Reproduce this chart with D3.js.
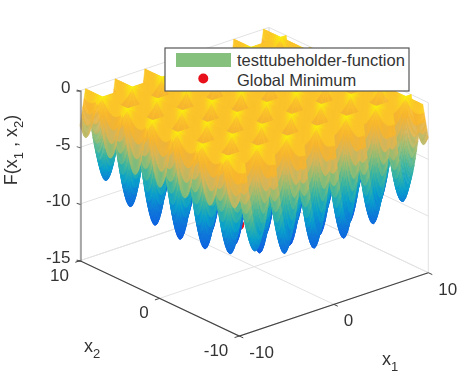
<!DOCTYPE html>
<html>
<head>
<meta charset="utf-8">
<script src="https://d3js.org/d3.v7.min.js"></script>
<style>
body { margin: 0; background: #fff; }
text { font-family: "Liberation Sans", Arial, sans-serif; fill: #333; }
svg { filter: blur(0.35px); }
</style>
</head>
<body>
<script>
// grid positions shared by x1 and x2
const gridX = [-10,-9.42,-8.9,-8.38,-7.85,-7.33,-6.81,-6.28,-5.76,-5.24,-4.71,-4.19,-3.67,-3.14,-2.62,-2.09,-1.57,-1.05,-0.52,0,0.52,1.05,1.57,2.09,2.62,3.14,3.67,4.19,4.71,5.24,5.76,6.28,6.81,7.33,7.85,8.38,8.9,9.42,10];

// surface heights, one row for each x2 line (values are read left to right along x1)
const rowFlat = [0,0,0,0,0,0,0,0,0,0,0,0,0,0,0,0,0,0,0,0,0,0,0,0,0,0,0,0,0,0,0,0,0,0,0,0,0,0,0];
const row00 = [-5.2,0,-5,-8.8,-10.4,-9.1,-5.3,0,-5.4,-9.3,-10.8,-9.4,-5.4,0,-5.4,-9.4,-10.9,-9.4,-5.4,0,-5.4,-9.4,-10.9,-9.4,-5.4,0,-5.4,-9.4,-10.8,-9.3,-5.4,0,-5.3,-9.1,-10.4,-8.8,-5,0,-5.2];
const row01 = [-4.5,0,-4.4,-7.6,-9,-7.9,-4.6,0,-4.6,-8.1,-9.3,-8.1,-4.7,0,-4.7,-8.1,-9.4,-8.1,-4.7,0,-4.7,-8.1,-9.4,-8.1,-4.7,0,-4.7,-8.1,-9.3,-8.1,-4.6,0,-4.6,-7.9,-9,-7.6,-4.4,0,-4.5];
const row02 = [-2.6,0,-2.5,-4.4,-5.2,-4.5,-2.6,0,-2.7,-4.7,-5.4,-4.7,-2.7,0,-2.7,-4.7,-5.4,-4.7,-2.7,0,-2.7,-4.7,-5.4,-4.7,-2.7,0,-2.7,-4.7,-5.4,-4.7,-2.7,0,-2.6,-4.5,-5.2,-4.4,-2.5,0,-2.6];
const row04 = [-2.6,0,-2.5,-4.4,-5.1,-4.5,-2.6,0,-2.7,-4.6,-5.4,-4.7,-2.7,0,-2.7,-4.7,-5.4,-4.7,-2.7,0,-2.7,-4.7,-5.4,-4.7,-2.7,0,-2.7,-4.7,-5.4,-4.6,-2.7,0,-2.6,-4.5,-5.1,-4.4,-2.5,0,-2.6];
const row05 = [-4.5,0,-4.3,-7.6,-8.9,-7.8,-4.5,0,-4.6,-8,-9.3,-8.1,-4.7,0,-4.7,-8.1,-9.4,-8.1,-4.7,0,-4.7,-8.1,-9.4,-8.1,-4.7,0,-4.7,-8.1,-9.3,-8,-4.6,0,-4.5,-7.8,-8.9,-7.6,-4.3,0,-4.5];
const row06 = [-5.1,0,-4.9,-8.7,-10.2,-8.9,-5.2,0,-5.3,-9.2,-10.7,-9.3,-5.4,0,-5.4,-9.4,-10.8,-9.4,-5.4,0,-5.4,-9.4,-10.8,-9.4,-5.4,0,-5.4,-9.3,-10.7,-9.2,-5.3,0,-5.2,-8.9,-10.2,-8.7,-4.9,0,-5.1];
const row07 = [-4.4,0,-4.2,-7.5,-8.8,-7.7,-4.5,0,-4.6,-8,-9.2,-8,-4.7,0,-4.7,-8.1,-9.4,-8.1,-4.7,0,-4.7,-8.1,-9.4,-8.1,-4.7,0,-4.7,-8,-9.2,-8,-4.6,0,-4.5,-7.7,-8.8,-7.5,-4.2,0,-4.4];
const row08 = [-2.5,0,-2.4,-4.3,-5,-4.5,-2.6,0,-2.6,-4.6,-5.3,-4.6,-2.7,0,-2.7,-4.7,-5.4,-4.7,-2.7,0,-2.7,-4.7,-5.4,-4.7,-2.7,0,-2.7,-4.6,-5.3,-4.6,-2.6,0,-2.6,-4.5,-5,-4.3,-2.4,0,-2.5];
const row10 = [-2.4,0,-2.4,-4.2,-4.9,-4.3,-2.5,0,-2.6,-4.5,-5.3,-4.6,-2.7,0,-2.7,-4.6,-5.4,-4.7,-2.7,0,-2.7,-4.7,-5.4,-4.6,-2.7,0,-2.7,-4.6,-5.3,-4.5,-2.6,0,-2.5,-4.3,-4.9,-4.2,-2.4,0,-2.4];
const row11 = [-4.1,0,-4,-7.1,-8.4,-7.4,-4.4,0,-4.4,-7.8,-9.1,-7.9,-4.6,0,-4.6,-8,-9.2,-8,-4.6,0,-4.6,-8,-9.2,-8,-4.6,0,-4.6,-7.9,-9.1,-7.8,-4.4,0,-4.4,-7.4,-8.4,-7.1,-4,0,-4.1];
const row12 = [-4.7,0,-4.6,-8.1,-9.6,-8.5,-5,0,-5.1,-8.9,-10.4,-9,-5.2,0,-5.3,-9.2,-10.6,-9.2,-5.3,0,-5.3,-9.2,-10.6,-9.2,-5.3,0,-5.2,-9,-10.4,-8.9,-5.1,0,-5,-8.5,-9.6,-8.1,-4.6,0,-4.7];
const row13 = [-4,0,-3.9,-6.9,-8.2,-7.2,-4.2,0,-4.4,-7.6,-8.9,-7.7,-4.5,0,-4.5,-7.9,-9.1,-7.9,-4.6,0,-4.6,-7.9,-9.1,-7.9,-4.5,0,-4.5,-7.7,-8.9,-7.6,-4.4,0,-4.2,-7.2,-8.2,-6.9,-3.9,0,-4];
const row14 = [-2.2,0,-2.2,-3.9,-4.6,-4.1,-2.4,0,-2.5,-4.3,-5.1,-4.4,-2.6,0,-2.6,-4.5,-5.2,-4.5,-2.6,0,-2.6,-4.5,-5.2,-4.5,-2.6,0,-2.6,-4.4,-5.1,-4.3,-2.5,0,-2.4,-4.1,-4.6,-3.9,-2.2,0,-2.2];
const row16 = [-2.1,0,-2.1,-3.7,-4.4,-3.9,-2.3,0,-2.4,-4.2,-4.9,-4.3,-2.5,0,-2.5,-4.4,-5.1,-4.4,-2.6,0,-2.6,-4.4,-5.1,-4.4,-2.5,0,-2.5,-4.3,-4.9,-4.2,-2.4,0,-2.3,-3.9,-4.4,-3.7,-2.1,0,-2.1];
const row17 = [-3.5,0,-3.5,-6.2,-7.4,-6.6,-3.9,0,-4,-7.1,-8.3,-7.3,-4.2,0,-4.3,-7.5,-8.7,-7.5,-4.4,0,-4.4,-7.5,-8.7,-7.5,-4.3,0,-4.2,-7.3,-8.3,-7.1,-4,0,-3.9,-6.6,-7.4,-6.2,-3.5,0,-3.5];
const row18 = [-3.9,0,-3.9,-7,-8.3,-7.4,-4.4,0,-4.5,-8,-9.4,-8.2,-4.8,0,-4.9,-8.5,-9.8,-8.5,-4.9,0,-4.9,-8.5,-9.8,-8.5,-4.9,0,-4.8,-8.2,-9.4,-8,-4.5,0,-4.4,-7.4,-8.3,-7,-3.9,0,-3.9];
const rowEnd = [-3.1,0,-3.1,-5.6,-6.7,-6,-3.5,0,-3.7,-6.5,-7.6,-6.7,-3.9,0,-4,-6.9,-8,-7,-4,0,-4,-7,-8,-6.9,-4,0,-3.9,-6.7,-7.6,-6.5,-3.7,0,-3.5,-6,-6.7,-5.6,-3.1,0,-3.1];

// rows in x2 order, from x2 = -10 to x2 = 10
const surfaceRows = [rowEnd,row18,row17,row16,rowFlat,row14,row13,row12,row11,row10,rowFlat,row08,row07,row06,row05,row04,rowFlat,row02,row01,row00,row01,row02,rowFlat,row04,row05,row06,row07,row08,rowFlat,row10,row11,row12,row13,row14,rowFlat,row16,row17,row18,rowEnd];

// only this minimum shows, the others sit behind the surface
const minimaX1 = [-1.57];
const minimaX2 = [0];
const minimaF = [-10.87];

const x1Ticks = [-10, 0, 10];
const x2Ticks = [-10, 0, 10];
const zTicks = [-15, -10, -5, 0];
const legendLabels = ["testtubeholder-function", "Global Minimum"];

const parulaStops = ["#0d4cd8","#0f66e0","#0f7ad8","#09a0cc","#3ab5a0","#8fbd75","#d9b558","#f7b52e","#fbc62a","#f9f00e"];
const parulaLevels = [-11,-9.8,-8.4,-7,-5.6,-4.2,-2.8,-1.5,-0.5,0];

const width = 474, height = 379;

// the box is drawn with a fixed oblique view, the scales give the position inside it
const uScale = d3.scaleLinear().domain([-10, 10]).range([0, 1]);
const vScale = d3.scaleLinear().domain([-10, 10]).range([0, 1]);
const zScale = d3.scaleLinear().domain([-15, 0]).range([260.7, 90.7]);

function project(x1, x2, z) {
  const u = uScale(x1), v = vScale(x2);
  return [239.3 + u * 189 - v * 159.3, zScale(z) + 75.3 - u * 63.3 - v * 75.3];
}
// further back means smaller ground y on screen
function depth(x1, x2) {
  return uScale(x1) * 63.3 + vScale(x2) * 75.3;
}

const colour = d3.scaleLinear().domain(parulaLevels).range(parulaStops);

const svg = d3.select("body").append("svg")
  .attr("width", width).attr("height", height)
  .style("display", "block");

const lineGen = d3.line();

// grid on the floor and on the two back walls
const gridG = svg.append("g").attr("fill", "none").attr("stroke", "#e2e2e2").attr("stroke-width", 1);
x1Ticks.forEach(t => {
  gridG.append("path").attr("d", lineGen([project(t, -10, -15), project(t, 10, -15), project(t, 10, 0)]));
});
x2Ticks.forEach(t => {
  gridG.append("path").attr("d", lineGen([project(-10, t, -15), project(10, t, -15), project(10, t, 0)]));
});
zTicks.forEach(t => {
  gridG.append("path").attr("d", lineGen([project(-10, 10, t), project(10, 10, t), project(10, -10, t)]));
});

// smooth shading: a curve through the grid values, cusped where the surface touches 0
const shade = 4;
function smoothLine(values) {
  const out = [];
  const n = values.length;
  const slope = (k, side) => {
    if (values[k] === 0 || k === 0 || k === n - 1) {
      const o = side > 0 ? Math.min(k + 1, n - 1) : Math.max(k - 1, 0);
      return (values[o] - values[k]) / (gridX[o] - gridX[k] || 1);
    }
    return (values[k + 1] - values[k - 1]) / (gridX[k + 1] - gridX[k - 1]);
  };
  for (let k = 0; k < n - 1; k++) {
    const h = gridX[k + 1] - gridX[k];
    const m0 = slope(k, 1) * h, m1 = slope(k + 1, -1) * h;
    for (let a = 0; a < shade; a++) {
      const t = a / shade, t2 = t * t, t3 = t2 * t;
      out.push((2 * t3 - 3 * t2 + 1) * values[k] + (t3 - 2 * t2 + t) * m0 + (3 * t2 - 2 * t3) * values[k + 1] + (t3 - t2) * m1);
    }
  }
  out.push(values[n - 1]);
  return out;
}
const fineX = smoothLine(gridX);
const alongX1 = surfaceRows.map(smoothLine);
const fineColumns = fineX.map((_, i) => smoothLine(alongX1.map(r => r[i])));

const facets = [];
for (let i = 0; i < fineX.length - 1; i++) {
  for (let j = 0; j < fineX.length - 1; j++) {
    const corners = [[i, j], [i + 1, j], [i + 1, j + 1], [i, j + 1]];
    const zs = corners.map(c => Math.min(0, fineColumns[c[0]][c[1]]));
    facets.push({
      d: lineGen(corners.map((c, k) => project(fineX[c[0]], fineX[c[1]], zs[k]))) + "Z",
      fill: colour(d3.mean(zs)),
      key: depth((fineX[i] + fineX[i + 1]) / 2, (fineX[j] + fineX[j + 1]) / 2)
    });
  }
}
minimaX1.forEach((m, k) => {
  facets.push({ dot: project(m, minimaX2[k], minimaF[k]), key: depth(m, minimaX2[k]) });
});
facets.sort((a, b) => d3.descending(a.key, b.key));

// draw in depth order with the marker in between
const surfaceG = svg.append("g");
facets.forEach(f => {
  if (f.dot) {
    surfaceG.append("circle").attr("cx", f.dot[0]).attr("cy", f.dot[1]).attr("r", 5).attr("fill", "#e8101a");
  } else {
    surfaceG.append("path").attr("d", f.d).attr("fill", f.fill).attr("stroke", f.fill).attr("stroke-width", 0.5);
  }
});

// z axis
const zAxis = d3.axisLeft(zScale).tickValues(zTicks).tickFormat(String).tickSize(4).tickPadding(6);
const zG = svg.append("g").attr("transform", "translate(80.5,0)").call(zAxis);
zG.select(".domain").attr("stroke", "#777").attr("stroke-width", 1.2);
zG.selectAll(".tick line").attr("stroke", "#555").attr("transform", "rotate(18)");
zG.selectAll(".tick text").attr("font-size", 17).attr("font-family", "Liberation Sans").attr("fill", "#333").attr("dy", "0.1em");

// x1 and x2 axes along the floor edges
const axisG = svg.append("g").attr("fill", "none").attr("stroke", "#444").attr("stroke-width", 1.2);
axisG.append("path").attr("d", lineGen([project(-10, 10, -15), project(-10, -10, -15), project(10, -10, -15)]));
x1Ticks.forEach(t => {
  axisG.append("path").attr("stroke-width", 1).attr("d", lineGen([project(t, -10, -15), project(t, -10.5, -15)]));
  const p = project(t, -10, -15);
  svg.append("text").attr("x", p[0] + 10).attr("y", p[1] + 22).attr("font-size", 17).text(t);
});
x2Ticks.forEach(t => {
  axisG.append("path").attr("stroke-width", 1).attr("d", lineGen([project(-10, t, -15), project(-10.5, t, -15)]));
  const p = project(-10, t, -15);
  svg.append("text").attr("x", p[0] - 11).attr("y", p[1] + 20).attr("text-anchor", "end").attr("font-size", 17).text(t);
});

// axis titles
function subLabel(x, y, parts, rotate) {
  const t = svg.append("text").attr("font-size", 18);
  if (rotate) t.attr("transform", "translate(" + x + "," + y + ") rotate(-90)").attr("text-anchor", "middle");
  else t.attr("x", x).attr("y", y);
  parts.forEach(p => {
    const s = t.append("tspan").text(p[0]);
    if (p[1]) s.attr("font-size", 13).attr("dy", 6);
    else if (p[2]) s.attr("dy", -6);
  });
}
subLabel(84, 352, [["x"], ["2", true]]);
subLabel(382, 365, [["x"], ["1", true]]);
subLabel(17, 150, [["F(x"], ["1", true], [" , x", false, true], ["2", true], [")", false, true]], true);

// legend
const legend = svg.append("g");
legend.append("rect").attr("x", 165).attr("y", 48).attr("width", 244).attr("height", 43)
  .attr("fill", "#fff").attr("stroke", "#555").attr("stroke-width", 1.2);
legend.append("rect").attr("x", 176).attr("y", 53).attr("width", 55).attr("height", 14).attr("fill", "#85c17c");
legend.append("circle").attr("cx", 203.3).attr("cy", 78.5).attr("r", 5).attr("fill", "#e8101a");
legendLabels.forEach((d, i) => {
  legend.append("text").attr("x", 237).attr("y", 66 + i * 19.5).attr("font-size", 16.5).text(d);
});
</script>
</body>
</html>
